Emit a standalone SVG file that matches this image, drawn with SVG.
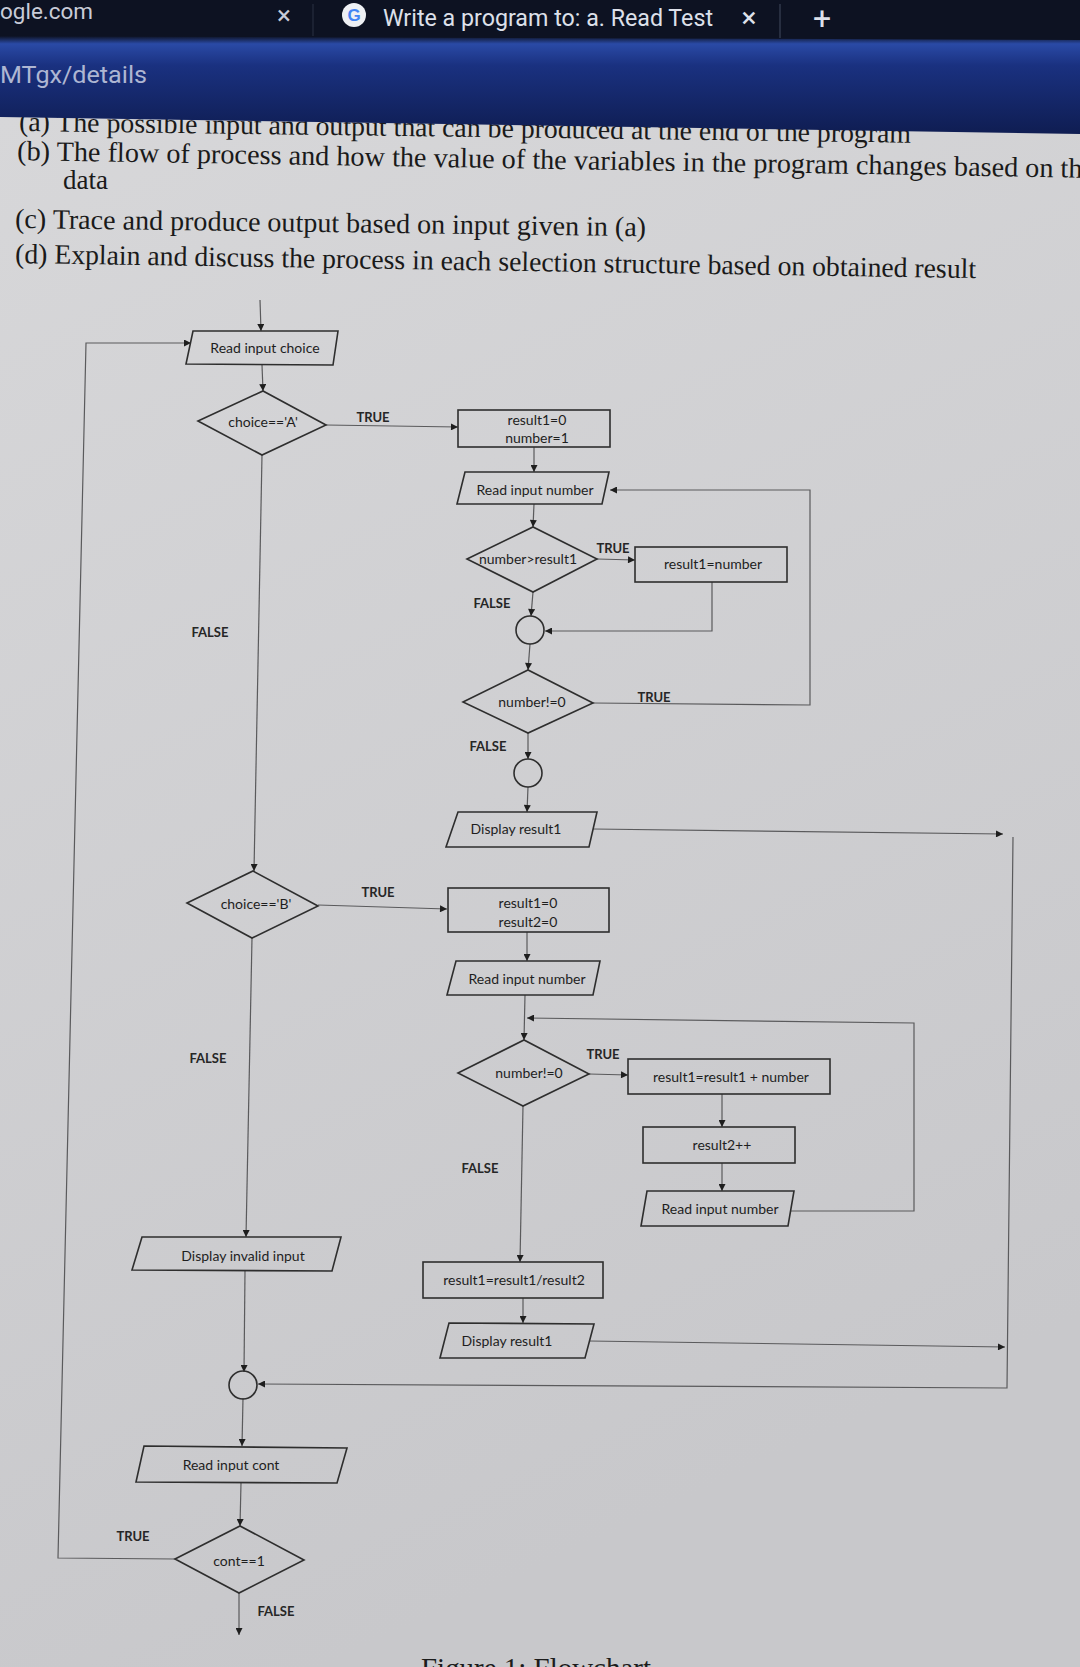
<svg xmlns="http://www.w3.org/2000/svg" width="1080" height="1667" viewBox="0 0 1080 1667">
<defs>
  <linearGradient id="bg" x1="0" y1="0" x2="0.3" y2="1">
    <stop offset="0" stop-color="#d8d8da"/>
    <stop offset="1" stop-color="#c8c8cb"/>
  </linearGradient>
  <linearGradient id="band" x1="0" y1="0" x2="0" y2="1">
    <stop offset="0" stop-color="#0d1222"/>
    <stop offset="0.08" stop-color="#2a4aa6"/>
    <stop offset="0.3" stop-color="#1a3180"/>
    <stop offset="1" stop-color="#0f1d52"/>
  </linearGradient>
  <marker id="ah" viewBox="0 0 10 10" refX="10" refY="5" markerWidth="8" markerHeight="7" markerUnits="userSpaceOnUse" orient="auto">
    <path d="M0,0 L10,5 L0,10 z" fill="#1e1e1e"/>
  </marker>
</defs>
<style>
  .shape{fill:none;stroke:#2e2e2e;stroke-width:1.6}
  .conn{fill:none;stroke:#5a5a5c;stroke-width:1.2;marker-end:url(#ah)}
  .t{font-family:Lato,"Liberation Sans",sans-serif;font-size:14px;fill:#1e1e1e;text-anchor:middle}
  .lbl{font-family:Lato,"Liberation Sans",sans-serif;font-size:13px;font-weight:bold;fill:#262626;text-anchor:middle}
  .q{font-family:"Liberation Serif",serif;font-size:28px;fill:#1a1a1a}
  .hd{font-family:Roboto,"Liberation Sans",sans-serif}
</style>

<rect x="0" y="0" width="1080" height="1667" fill="url(#bg)"/>

<!-- question text -->
<g id="question">
  <text class="q" x="19" y="131" textLength="892" lengthAdjust="spacingAndGlyphs" transform="rotate(0.75 19 131)">(a) The possible input and output that can be produced at the end of the program</text>
  <text class="q" x="17" y="160" textLength="1078" lengthAdjust="spacingAndGlyphs" transform="rotate(0.95 17 160)">(b) The flow of process and how the value of the variables in the program changes based on the</text>
  <text class="q" x="63" y="189" textLength="45" lengthAdjust="spacingAndGlyphs">data</text>
  <text class="q" x="15" y="228" textLength="631" lengthAdjust="spacingAndGlyphs" transform="rotate(0.75 15 228)">(c) Trace and produce output based on input given in (a)</text>
  <text class="q" x="15" y="263" textLength="961" lengthAdjust="spacingAndGlyphs" transform="rotate(0.9 15 263)">(d) Explain and discuss the process in each selection structure based on obtained result</text>
</g>

<!-- browser header -->
<g id="browser">
  <rect x="0" y="0" width="1080" height="44" fill="#0d1222"/>
  <polygon points="0,36 1080,40 1080,134 0,117" fill="url(#band)"/>
  <text class="hd" x="0" y="19" font-size="22" fill="#c8ccd8" textLength="93" lengthAdjust="spacingAndGlyphs">ogle.com</text>
  <text class="hd" x="284" y="24" font-size="26" fill="#c8ccd8" text-anchor="middle">×</text>
  <line x1="313" y1="4" x2="313" y2="36" stroke="#2a3042" stroke-width="1"/>
  <circle cx="354" cy="15" r="12" fill="#eef0f4"/>
  <text x="354" y="21" font-family="'Liberation Sans',sans-serif" font-weight="bold" font-size="17" fill="#4285f4" text-anchor="middle">G</text>
  <text class="hd" x="383" y="26" font-size="24" fill="#dde0ea" textLength="330" lengthAdjust="spacingAndGlyphs">Write a program to: a. Read Test</text>
  <text class="hd" x="749" y="27" font-size="28" fill="#dde0ea" text-anchor="middle">×</text>
  <line x1="780" y1="4" x2="780" y2="38" stroke="#3a4256" stroke-width="1.2"/>
  <text class="hd" x="822" y="29" font-size="32" fill="#dde0ea" text-anchor="middle">+</text>
  <text class="hd" x="0" y="83" font-size="24" fill="#aeb6d2" textLength="147" lengthAdjust="spacingAndGlyphs">MTgx/details</text>
</g>

<!-- connectors -->
<g id="connectors">
  <line class="conn" x1="260" y1="300" x2="261" y2="331"/>
  <line class="conn" x1="262" y1="365" x2="263" y2="391"/>
  <line class="conn" x1="326" y1="425" x2="458" y2="427"/>
  <line class="conn" x1="262" y1="455" x2="254" y2="871"/>
  <line class="conn" x1="534" y1="447" x2="534" y2="472"/>
  <line class="conn" x1="534" y1="504" x2="533" y2="527"/>
  <line class="conn" x1="597" y1="559" x2="635" y2="560"/>
  <line class="conn" x1="533" y1="592" x2="531" y2="616"/>
  <polyline class="conn" points="712,582 712,631 545,631"/>
  <line class="conn" x1="530" y1="644" x2="528" y2="670"/>
  <polyline class="conn" points="593,703 810,705 810,490 610,490"/>
  <line class="conn" x1="528" y1="733" x2="528" y2="759"/>
  <line class="conn" x1="528" y1="787" x2="527" y2="812"/>
  <line class="conn" x1="593" y1="829" x2="1003" y2="834"/>
  <polyline class="conn" points="1013,837 1007,1388 258,1384"/>
  <line class="conn" x1="318" y1="905" x2="447" y2="909"/>
  <line class="conn" x1="527" y1="932" x2="527" y2="961"/>
  <line class="conn" x1="525" y1="995" x2="524" y2="1040"/>
  <polyline class="conn" points="790,1211 914,1211 914,1023 527,1018"/>
  <line class="conn" x1="589" y1="1074" x2="628" y2="1075"/>
  <line class="conn" x1="722" y1="1094" x2="722" y2="1127"/>
  <line class="conn" x1="722" y1="1163" x2="722" y2="1191"/>
  <line class="conn" x1="523" y1="1106" x2="520" y2="1262"/>
  <line class="conn" x1="523" y1="1298" x2="523" y2="1323"/>
  <line class="conn" x1="589" y1="1341" x2="1005" y2="1347"/>
  <line class="conn" x1="252" y1="938" x2="246" y2="1237"/>
  <line class="conn" x1="245" y1="1271" x2="244" y2="1372"/>
  <line class="conn" x1="243" y1="1398" x2="242" y2="1446"/>
  <line class="conn" x1="241" y1="1483" x2="240" y2="1526"/>
  <polyline class="conn" points="175,1559 58,1558 86,343 191,343"/>
  <line class="conn" x1="239" y1="1593" x2="239" y2="1635"/>
</g>

<!-- labels -->
<g id="labels">
  <text class="lbl" x="373" y="422">TRUE</text>
  <text class="lbl" x="210" y="637">FALSE</text>
  <text class="lbl" x="613" y="553">TRUE</text>
  <text class="lbl" x="492" y="608">FALSE</text>
  <text class="lbl" x="654" y="702">TRUE</text>
  <text class="lbl" x="488" y="751">FALSE</text>
  <text class="lbl" x="378" y="897">TRUE</text>
  <text class="lbl" x="208" y="1063">FALSE</text>
  <text class="lbl" x="603" y="1059">TRUE</text>
  <text class="lbl" x="480" y="1173">FALSE</text>
  <text class="lbl" x="133" y="1541">TRUE</text>
  <text class="lbl" x="276" y="1616">FALSE</text>
</g>

<!-- nodes -->
<g id="n-read-choice"><polygon class="shape" points="193,331 338,331 333,365 186,364"/><text class="t" x="265" y="353">Read input choice</text></g>
<g id="n-choice-a"><polygon class="shape" points="198,421 263,391 326,425 262,455"/><text class="t" x="263" y="427" font-size="13.5">choice=='A'</text></g>
<g id="n-init-a"><rect class="shape" x="458" y="410" width="152" height="37"/><text class="t" x="537" y="425">result1=0</text><text class="t" x="537" y="443">number=1</text></g>
<g id="n-read-num-a"><polygon class="shape" points="465,472 609,472 602,504 457,504"/><text class="t" x="535" y="495">Read input number</text></g>
<g id="n-num-gt"><polygon class="shape" points="467,559 533,527 597,559 533,592"/><text class="t" x="528" y="564">number&gt;result1</text></g>
<g id="n-set-max"><rect class="shape" x="635" y="547" width="152" height="35"/><text class="t" x="713" y="569">result1=number</text></g>
<g id="n-join-1"><circle class="shape" cx="530" cy="630" r="14"/></g>
<g id="n-num-ne-a"><polygon class="shape" points="463,702 528,670 593,703 528,733"/><text class="t" x="532" y="707">number!=0</text></g>
<g id="n-join-2"><circle class="shape" cx="528" cy="773" r="14"/></g>
<g id="n-display-a"><polygon class="shape" points="458,812 597,812 589,847 446,847"/><text class="t" x="516" y="834">Display result1</text></g>
<g id="n-choice-b"><polygon class="shape" points="187,903 253,871 318,906 252,938"/><text class="t" x="256" y="909" font-size="13.5">choice=='B'</text></g>
<g id="n-init-b"><rect class="shape" x="448" y="888" width="161" height="44"/><text class="t" x="528" y="908">result1=0</text><text class="t" x="528" y="927">result2=0</text></g>
<g id="n-read-num-b"><polygon class="shape" points="456,961 600,961 593,995 447,995"/><text class="t" x="527" y="984">Read input number</text></g>
<g id="n-num-ne-b"><polygon class="shape" points="458,1073 524,1040 589,1074 523,1106"/><text class="t" x="529" y="1078">number!=0</text></g>
<g id="n-sum"><rect class="shape" x="628" y="1059" width="202" height="35"/><text class="t" x="731" y="1082">result1=result1 + number</text></g>
<g id="n-count"><rect class="shape" x="643" y="1127" width="152" height="36"/><text class="t" x="722" y="1150">result2++</text></g>
<g id="n-read-num-b2"><polygon class="shape" points="647,1191 794,1191 788,1226 641,1226"/><text class="t" x="720" y="1214">Read input number</text></g>
<g id="n-average"><rect class="shape" x="423" y="1262" width="180" height="36"/><text class="t" x="514" y="1285">result1=result1/result2</text></g>
<g id="n-display-b"><polygon class="shape" points="449,1323 594,1324 585,1358 440,1358"/><text class="t" x="507" y="1346">Display result1</text></g>
<g id="n-invalid"><polygon class="shape" points="142,1237 341,1237 332,1271 132,1270"/><text class="t" x="243" y="1261">Display invalid input</text></g>
<g id="n-join-3"><circle class="shape" cx="243" cy="1385" r="14"/></g>
<g id="n-read-cont"><polygon class="shape" points="144,1446 347,1448 337,1483 136,1482"/><text class="t" x="231" y="1470">Read input cont</text></g>
<g id="n-cont"><polygon class="shape" points="175,1559 240,1526 304,1560 239,1593"/><text class="t" x="239" y="1566" font-size="13.5">cont==1</text></g>

<text id="caption" x="421" y="1678" font-family="'Liberation Serif',serif" font-size="30" fill="#1c1c1c" textLength="230" lengthAdjust="spacingAndGlyphs">Figure 1: Flowchart</text>
</svg>
